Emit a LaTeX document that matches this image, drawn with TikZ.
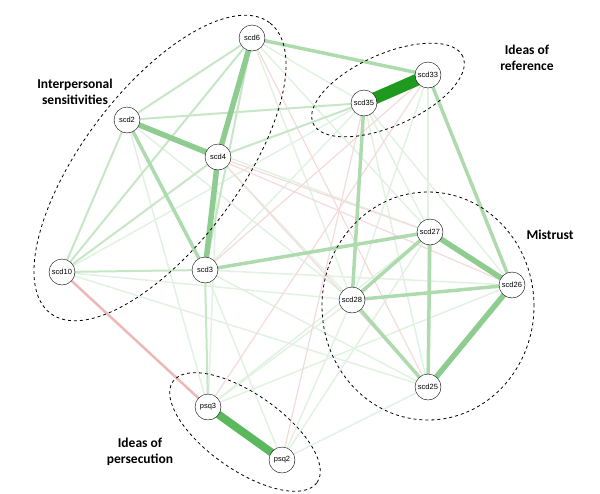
\documentclass[tikz,border=0pt]{standalone}
\usepackage{fontspec}
\setmainfont{Liberation Sans}
\newfontfamily\lab{Carlito}
\definecolor{g1}{HTML}{E2F2E2}
\definecolor{g2}{HTML}{C6E6C6}
\definecolor{g3}{HTML}{ADDBAD}
\definecolor{g4}{HTML}{8FCC8F}
\definecolor{g5}{HTML}{5CB85C}
\definecolor{g6}{HTML}{1E9A1E}
\definecolor{r1}{HTML}{F5DADA}
\definecolor{r2}{HTML}{EDB8B8}
\begin{document}
\begin{tikzpicture}[x=1pt,y=-1pt,
  nd/.style={circle,draw=black,fill=white,minimum size=26pt,inner sep=0pt,font=\fontsize{7.5}{9}\selectfont},
  grp/.style={draw=black,dashed,line width=0.8pt},
  lb/.style={font=\lab\bfseries\fontsize{13.5}{16}\selectfont,align=center}]
\useasboundingbox (0,0) rectangle (600,493);
\coordinate (scd6) at (252,38);
\coordinate (scd33) at (428,75);
\coordinate (scd35) at (364,103);
\coordinate (scd2) at (127,120);
\coordinate (scd4) at (218,157);
\coordinate (scd10) at (62,272);
\coordinate (scd3) at (205,270);
\coordinate (scd27) at (430,232);
\coordinate (scd26) at (512,285);
\coordinate (scd28) at (352,300);
\coordinate (scd25) at (428,387);
\coordinate (psq3) at (208,407);
\coordinate (psq2) at (282,460);
\foreach \a/\b in {scd6/scd35,scd6/scd27,scd6/scd28,scd2/scd27,scd4/scd28,scd10/scd28,scd10/scd25,scd3/scd35,scd3/scd25,scd3/scd26,psq3/scd27,psq3/scd26,psq3/scd28,psq2/scd28,psq2/scd25,psq2/scd27,scd2/psq3,scd4/psq3,scd35/scd25,scd33/scd28,scd33/scd25,scd35/scd26,psq2/scd3,scd10/scd35,scd2/scd28,scd35/scd27}
  \draw[g1,line width=1.5pt] (\a) -- (\b);
\foreach \a/\b in {scd4/scd27,scd6/scd25,scd2/scd26,psq3/scd33,scd3/scd33,psq2/scd35,scd4/scd25}
  \draw[r1,line width=1.2pt] (\a) -- (\b);
\draw[r2,line width=2.5pt] (scd10) -- (psq3);
\foreach \a/\b in {scd6/scd10,scd6/scd3,scd2/scd10,scd10/scd3,scd10/scd4,scd2/scd35,scd3/psq3,scd4/scd35,scd6/scd2}
  \draw[g2,line width=2pt] (\a) -- (\b);
\foreach \a/\b in {scd6/scd33,scd2/scd3,scd35/scd28,scd3/scd27,scd28/scd27,scd27/scd25,scd28/scd25,scd28/scd26,scd33/scd26}
  \draw[g3,line width=3.5pt] (\a) -- (\b);
\foreach \a/\b in {scd6/scd4,scd2/scd4,scd4/scd3,scd27/scd26,scd26/scd25}
  \draw[g4,line width=5.5pt] (\a) -- (\b);
\draw[g5,line width=8pt] (psq3) -- (psq2);
\draw[g6,line width=12pt] (scd35) -- (scd33);
\foreach \n in {scd6,scd33,scd35,scd2,scd4,scd10,scd3,scd27,scd26,scd28,scd25,psq3,psq2}
  \node[nd] (n\n) at (\n) {\n};
\draw[grp,rotate around={53:(160,168)}] (160,168) ellipse [x radius=182pt,y radius=78pt];
\draw[grp,rotate around={24:(388,90)}] (388,90) ellipse [x radius=82pt,y radius=36pt];
\draw[grp] (428,306) ellipse [x radius=106pt,y radius=114pt];
\draw[grp,rotate around={-35:(245,432)}] (245,432) ellipse [x radius=88pt,y radius=38pt];
\node[lb] (l1) at (75,92) {Interpersonal\\sensitivities};
\node[lb] (l2) at (527,58) {Ideas of\\reference};
\node[lb] (l3) at (550,235) {Mistrust};
\node[lb] (l4) at (140,452) {Ideas of\\persecution};
\end{tikzpicture}
\end{document}
